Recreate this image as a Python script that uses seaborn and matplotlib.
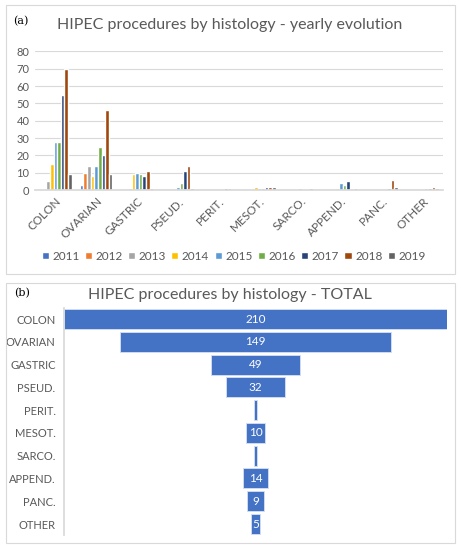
import pandas as pd
import matplotlib.pyplot as plt
from matplotlib.patches import Rectangle
import seaborn as sns
sns.set_theme(style='white')
plt.rcParams['font.family'] = ['Lato', 'DejaVu Sans']

# categories and yearly counts
histology = ['COLON', 'OVARIAN', 'GASTRIC', 'PSEUD.', 'PERIT.', 'MESOT.',
             'SARCO.', 'APPEND.', 'PANC.', 'OTHER']
years = ['2011', '2012', '2013', '2014', '2015', '2016', '2017', '2018', '2019']
y2011 = [0, 3, 0, 0, 0, 0, 0, 0, 0, 0]
y2012 = [0, 10, 0, 0, 0, 0, 0, 0, 0, 0]
y2013 = [5, 14, 1, 0, 0, 0, 0, 0, 0, 0]
y2014 = [15, 8, 9, 0, 0, 2, 0, 1, 0, 0]
y2015 = [28, 14, 10, 2, 0, 1, 1, 4, 0, 0]
y2016 = [28, 25, 9, 4, 0, 1, 0, 3, 0, 1]
y2017 = [55, 20, 8, 11, 1, 2, 0, 5, 1, 1]
y2018 = [70, 46, 11, 14, 1, 2, 1, 0, 6, 2]
y2019 = [9, 9, 1, 1, 0, 2, 0, 1, 2, 1]
totals = [210, 149, 49, 32, 2, 10, 2, 14, 9, 5]

colors = ['#4472C4', '#ED7D31', '#A5A5A5', '#FFC000', '#5B9BD5',
          '#70AD47', '#264478', '#9E480E', '#636363']
txt = '#595959'

yearly = [y2011, y2012, y2013, y2014, y2015, y2016, y2017, y2018, y2019]
rows = []
for yr, vals in zip(years, yearly):
    for h, v in zip(histology, vals):
        rows.append({'histology': h, 'year': yr, 'count': v})
df = pd.DataFrame(rows)
df_tot = pd.DataFrame({'histology': histology, 'total': totals})

fig = plt.figure(figsize=(4.6, 5.5), dpi=100)

# panel borders
for y0, h in [(0.502, 0.489), (0.013, 0.472)]:
    fig.add_artist(Rectangle((0.014, y0), 0.975, h, transform=fig.transFigure,
                             fill=False, edgecolor='#D9D9D9', lw=0.8))

# (a) yearly evolution
ax1 = fig.add_axes([0.076, 0.6545, 0.887, 0.252])
sns.barplot(data=df, x='histology', y='count', hue='year', palette=colors,
            width=0.8, errorbar=None, saturation=1, ax=ax1)
ax1.set_ylim(0, 80)
ax1.set_yticks(range(0, 81, 10))
ax1.grid(axis='y', color='#D9D9D9', lw=0.8)
ax1.set_axisbelow(True)
for s in ['top', 'right', 'left']:
    ax1.spines[s].set_visible(False)
ax1.spines['bottom'].set_color('#D9D9D9')
ax1.set_xlabel('')
ax1.set_ylabel('')
ax1.tick_params(axis='both', length=0, labelsize=8, labelcolor=txt, pad=4)
plt.setp(ax1.get_xticklabels(), rotation=45, ha='right', rotation_mode='anchor',
         fontsize=8.5)
handles, labels = ax1.get_legend_handles_labels()
ax1.get_legend().remove()
fig.legend(handles, labels, loc='center', bbox_to_anchor=(0.508, 0.534), ncol=9,
           frameon=False, fontsize=8.5, handlelength=0.6, handleheight=0.6,
           handletextpad=0.3, columnspacing=0.45, labelcolor=txt)
fig.text(0.5, 0.955, 'HIPEC procedures by histology - yearly evolution',
         ha='center', va='center', fontsize=11.5, color=txt)
fig.text(0.045, 0.962, '(a)', ha='center', va='center', fontsize=8,
         color='black', family='DejaVu Serif')

# (b) total funnel
ax2 = fig.add_axes([0.139, 0.0265, 0.833, 0.4142])
sns.barplot(data=df_tot, x='total', y='histology', orient='h', color='#4472C4',
            width=0.88, errorbar=None, saturation=1, edgecolor='#D6E0F2',
            linewidth=0.6, ax=ax2)
for p in ax2.patches:
    p.set_x(-p.get_width() / 2)
for i, v in enumerate(totals):
    if v > 2:
        ax2.text(0, i, str(v), ha='center', va='center', color='white', fontsize=8.5)
ax2.set_xlim(-105, 105)
ax2.set_xticks([])
for s in ['top', 'right', 'bottom']:
    ax2.spines[s].set_visible(False)
ax2.spines['left'].set_color('#D9D9D9')
ax2.set_xlabel('')
ax2.set_ylabel('')
ax2.tick_params(axis='y', length=0, labelsize=8, labelcolor=txt, pad=6)
fig.text(0.5, 0.463, 'HIPEC procedures by histology - TOTAL',
         ha='center', va='center', fontsize=11.5, color=txt)
fig.text(0.048, 0.467, '(b)', ha='center', va='center', fontsize=8,
         color='black', family='DejaVu Serif')

plt.savefig('out.png', dpi=100)
